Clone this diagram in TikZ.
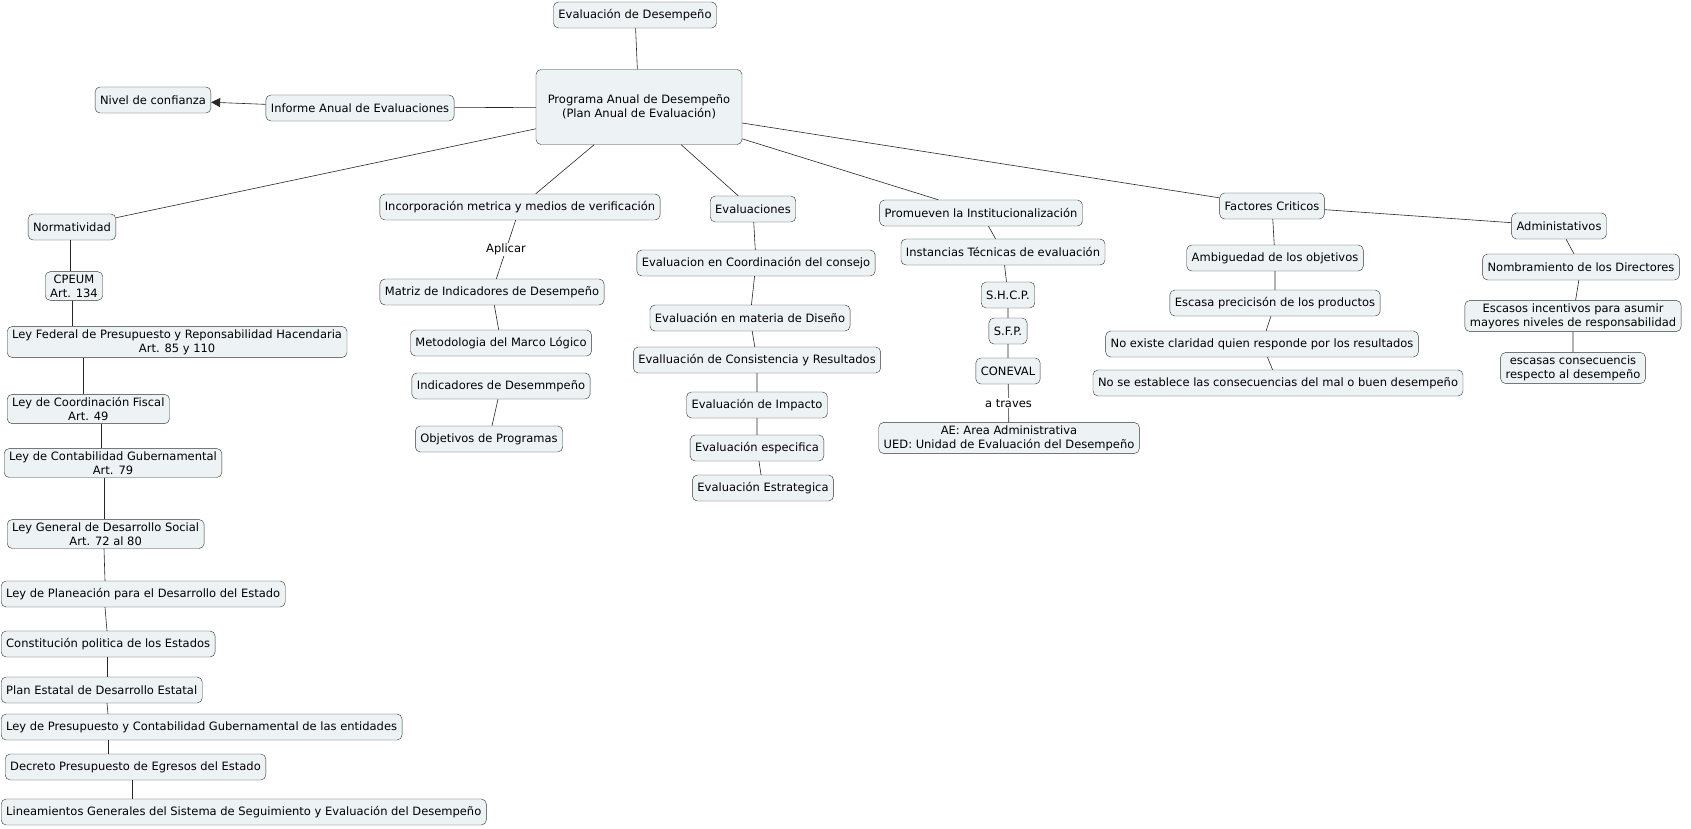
\documentclass[tikz,border=0pt]{standalone}
\usepackage{fontspec}
\setmainfont{DejaVu Sans}
\usetikzlibrary{arrows.meta}
\begin{document}
\begin{tikzpicture}[x=1pt,y=-1pt,
 b/.style={draw=black!80,fill={rgb,255:red,237;green,243;blue,245},rounded corners=5pt,align=center,inner xsep=5pt,inner ysep=3pt,minimum height=26pt,font=\fontsize{11.5}{14}\selectfont},
 l/.style={font=\fontsize{11.5}{14}\selectfont,fill=white,inner sep=1pt},
 e/.style={draw=black!85,line width=0.6pt}]
\useasboundingbox (0,0) rectangle (1691,829);
\node[b] (ed) at (635,15) {Evaluación de Desempeño};
\node[b,minimum width=206pt,minimum height=75pt] (pad) at (639,107) {Programa Anual de Desempeño\\(Plan Anual de Evaluación)};
\node[b] (iae) at (360,108) {Informe Anual de Evaluaciones};
\node[b] (nc) at (153,100) {Nivel de confianza};
\node[b] (norm) at (72,227) {Normatividad};
\node[b] (cpeum) at (74,286) {CPEUM\\Art. 134};
\node[b,anchor=west] (lf) at (7,342) {Ley Federal de Presupuesto y Reponsabilidad Hacendaria\\Art. 85 y 110};
\node[b,anchor=west] (lcf) at (7,409) {Ley de Coordinación Fiscal\\Art. 49};
\node[b,anchor=west] (lcg) at (4,463) {Ley de Contabilidad Gubernamental\\Art. 79};
\node[b,anchor=west] (lgds) at (7,534) {Ley General de Desarrollo Social\\Art. 72 al 80};
\node[b,anchor=west] (lpde) at (1,594) {Ley de Planeación para el Desarrollo del Estado};
\node[b,anchor=west] (cpe) at (1,644) {Constitución politica de los Estados};
\node[b,anchor=west] (pede) at (1,690) {Plan Estatal de Desarrollo Estatal};
\node[b,anchor=west] (lpcg) at (1,727) {Ley de Presupuesto y Contabilidad Gubernamental de las entidades};
\node[b,anchor=west] (dpe) at (5,767) {Decreto Presupuesto de Egresos del Estado};
\node[b,anchor=west] (lgs) at (1,812) {Lineamientos Generales del Sistema de Seguimiento y Evaluación del Desempeño};
\foreach \n/\x in {k1/70,k2/72,k3/83,k4/101,k5/104,k6/105,k7/107,k8/108,k9/132}{\coordinate (\n) at (\x,0);}
\node[b] (imv) at (520,207) {Incorporación metrica y medios de verificación};
\node[b] (mid) at (492,292) {Matriz de Indicadores de Desempeño};
\node[b] (mml) at (501,343) {Metodologia del Marco Lógico};
\node[b] (ind) at (501,386) {Indicadores de Desemmpeño};
\node[b] (obj) at (489,439) {Objetivos de Programas};
\node[b] (eval) at (753,209) {Evaluaciones};
\node[b] (ecc) at (756,263) {Evaluacion en Coordinación del consejo};
\node[b] (emd) at (750,318) {Evaluación en materia de Diseño};
\node[b] (ecr) at (757,360) {Evalluación de Consistencia y Resultados};
\node[b] (ei) at (757,405) {Evaluación de Impacto};
\node[b] (ee) at (757,448) {Evaluación especifica};
\node[b] (est) at (763,488) {Evaluación Estrategica};
\node[b] (pri) at (981,213) {Promueven la Institucionalización};
\node[b] (itc) at (1003,252) {Instancias Técnicas de evaluación};
\node[b] (shcp) at (1008,295) {S.H.C.P.};
\node[b] (sfp) at (1008,331) {S.F.P.};
\node[b] (con) at (1008,371) {CONEVAL};
\node[b] (ae) at (1009,438) {AE: Area Administrativa\\UED: Unidad de Evaluación del Desempeño};
\node[b] (fc) at (1272,206) {Factores Criticos};
\node[b] (amb) at (1275,258) {Ambiguedad de los objetivos};
\node[b] (esc) at (1275,303) {Escasa precicisón de los productos};
\node[b] (nec) at (1262,344) {No existe claridad quien responde por los resultados};
\node[b] (nse) at (1278,383) {No se establece las consecuencias del mal o buen desempeño};
\node[b] (adm) at (1559,226) {Administativos};
\node[b] (nom) at (1581,267) {Nombramiento de los Directores};
\node[b] (ei2) at (1573,316) {Escasos incentivos para asumir\\mayores niveles de responsabilidad};
\node[b] (ecs) at (1573,368) {escasas consecuencis\\respecto al desempeño};
\draw[e] (pad)--(ed);
\draw[e] (pad)--(iae);
\draw[e,-{Triangle[length=9pt,width=9pt]}] (iae)--(nc);
\draw[e] (pad)--(norm);
\draw[e] (pad)--(imv);
\draw[e] (pad)--(eval);
\draw[e] (pad)--(pri);
\draw[e] (pad)--(fc);
\draw[e] (fc)--(adm);
\draw[e] (norm.south -| k1)--(cpeum.north -| k1);
\draw[e] (cpeum.south -| k2)--(lf.north -| k2);
\draw[e] (lf.south -| k3)--(lcf.north -| k3);
\draw[e] (lcf.south -| k4)--(lcg.north -| k4);
\draw[e] (lcg.south -| k5)--(lgds.north -| k5);
\draw[e] (lgds.south -| k5)--(lpde.north -| k6);
\draw[e] (lpde.south -| k6)--(cpe.north -| k7);
\draw[e] (cpe.south -| k7)--(pede.north -| k7);
\draw[e] (pede.south -| k7)--(lpcg.north -| k8);
\draw[e] (lpcg.south -| k8)--(dpe.north -| k8);
\draw[e] (dpe.south -| k9)--(lgs.north -| k9);
\draw[e] (imv)--node[l]{Aplicar}(mid);
\draw[e] (mid)--(mml);
\draw[e] (ind)--(obj);
\draw[e] (eval)--(ecc)--(emd)--(ecr)--(ei)--(ee)--(est);
\draw[e] (pri)--(itc)--(shcp)--(sfp)--(con);
\draw[e] (con)--node[l]{a traves}(ae);
\draw[e] (fc)--(amb)--(esc)--(nec)--(nse);
\draw[e] (adm)--(nom)--(ei2)--(ecs);
\end{tikzpicture}
\end{document}
